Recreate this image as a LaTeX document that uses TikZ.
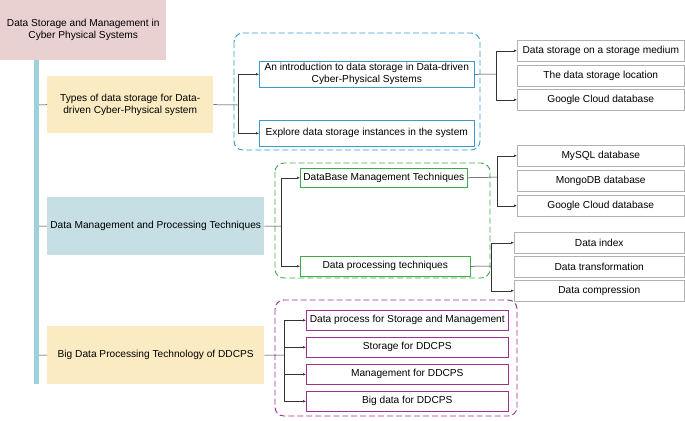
\documentclass[tikz,border=0pt]{standalone}
\usepackage{fontspec}
\setmainfont{Liberation Sans}
\usetikzlibrary{arrows.meta}
\definecolor{pinkf}{HTML}{EAD1D1}
\definecolor{yel}{HTML}{FAEBC2}
\definecolor{blu}{HTML}{C6DFE4}
\definecolor{barc}{HTML}{9ECFDD}
\definecolor{dblue}{HTML}{3A9AD0}
\definecolor{dgreen}{HTML}{3DAA4A}
\definecolor{dmag}{HTML}{A0308E}
\begin{document}
\begin{tikzpicture}[x=1bp,y=-1bp,
  every node/.style={font=\fontsize{10.2}{12}\selectfont,align=center,inner sep=1pt},
  bx/.style={draw=#1,fill=white,line width=0.6pt},
  gbx/.style={draw=gray!60,fill=white,line width=0.5pt},
  con/.style={draw=black!80,line width=0.5pt},
  arr/.style={con,-{Latex[length=3pt,width=2.5pt]}},
  dsh/.style={draw=#1,dashed,dash pattern=on 6pt off 3pt,line width=0.9pt,rounded corners=9pt}]
\useasboundingbox (0,0) rectangle (685,420);
% title and bar
\fill[barc] (34,60) rectangle (39,384);
\node[fill=pinkf,minimum width=166bp,minimum height=60bp,anchor=north west] (t) at (0,0) {Data Storage and Management in\\Cyber Physical Systems};
% level-1 boxes
\node[fill=yel,minimum width=166bp,minimum height=57bp,anchor=north west] (a) at (47,76) {Types of data storage for Data-\\driven Cyber-Physical system};
\node[fill=blu,minimum width=217bp,minimum height=58bp,anchor=north west] (b) at (47,197) {Data Management and Processing Techniques};
\node[fill=yel,minimum width=217bp,minimum height=58bp,anchor=north west] (c) at (47,326) {Big Data Processing Technology of DDCPS};
\draw[con] (39,105) -- (a.west);
\draw[con] (39,226) -- (b.west);
\draw[con] (39,355) -- (c.west);
% dashed groups
\draw[dsh=dblue] (234,33) rectangle (480,150);
\draw[dsh=dgreen] (275,163) rectangle (490,278);
\draw[dsh=dmag] (275,300) rectangle (517,416);
% group 1
\node[bx=dblue,minimum width=215bp,minimum height=26bp,anchor=north west] (a1) at (259,61) {An introduction to data storage in Data-driven\\Cyber-Physical Systems};
\node[bx=dblue,minimum width=215bp,minimum height=26bp,anchor=north west] (a2) at (259,120) {Explore data storage instances in the system};
\coordinate (ja) at (238,105);
\draw[con] (a.east) -- (ja);
\draw[arr] (ja) |- (a1.west);
\draw[arr] (ja) |- (a2.west);
\node[gbx,minimum width=167bp,minimum height=21bp,anchor=north west] (r1) at (517,40) {Data storage on a storage medium};
\node[gbx,minimum width=167bp,minimum height=21bp,anchor=north west] (r2) at (517,65) {The data storage location};
\node[gbx,minimum width=167bp,minimum height=21bp,anchor=north west] (r3) at (517,89) {Google Cloud database};
\coordinate (jr) at (496,74);
\draw[con] (a1.east) -- (jr);
\draw[arr] (jr) |- (r1.west);
\draw[arr] (jr) |- (r3.west);
% group 2
\node[bx=dgreen,minimum width=167bp,minimum height=19bp,anchor=north west] (b1) at (300,168) {DataBase Management Techniques};
\node[bx=dgreen,minimum width=170bp,minimum height=20bp,anchor=north west] (b2) at (300,256) {Data processing techniques};
\coordinate (jb) at (281,226);
\draw[con] (b.east) -- (jb);
\draw[arr] (jb) |- (b1.west);
\draw[arr] (jb) |- (b2.west);
\node[gbx,minimum width=167bp,minimum height=21bp,anchor=north west] (m1) at (517,145) {MySQL database};
\node[gbx,minimum width=167bp,minimum height=21bp,anchor=north west] (m2) at (517,170) {MongoDB database};
\node[gbx,minimum width=167bp,minimum height=21bp,anchor=north west] (m3) at (517,195) {Google Cloud database};
\coordinate (jm) at (497,177);
\draw[con] (b1.east) -- (jm);
\draw[arr] (jm) |- (m1.west);
\draw[arr] (jm) |- (m3.west);
\node[gbx,minimum width=170bp,minimum height=21bp,anchor=north west] (p1) at (514,232) {Data index};
\node[gbx,minimum width=170bp,minimum height=21bp,anchor=north west] (p2) at (514,256) {Data transformation};
\node[gbx,minimum width=170bp,minimum height=21bp,anchor=north west] (p3) at (514,280) {Data compression};
\coordinate (jp) at (491,266);
\draw[con] (b2.east) -- (jp);
\draw[arr] (jp) |- (p1.west);
\draw[arr] (jp) |- (p3.west);
% group 3
\node[bx=dmag,minimum width=202bp,minimum height=20bp,anchor=north west] (c1) at (306,310) {Data process for Storage and Management};
\node[bx=dmag,minimum width=202bp,minimum height=20bp,anchor=north west] (c2) at (306,337) {Storage for DDCPS};
\node[bx=dmag,minimum width=202bp,minimum height=20bp,anchor=north west] (c3) at (306,364) {Management for DDCPS};
\node[bx=dmag,minimum width=202bp,minimum height=20bp,anchor=north west] (c4) at (306,391) {Big data for DDCPS};
\coordinate (jc) at (284,355);
\draw[con] (c.east) -- (jc);
\draw[arr] (jc) |- (c1.west);
\draw[arr] (jc) |- (c2.west);
\draw[arr] (jc) |- (c3.west);
\draw[arr] (jc) |- (c4.west);
\end{tikzpicture}
\end{document}
